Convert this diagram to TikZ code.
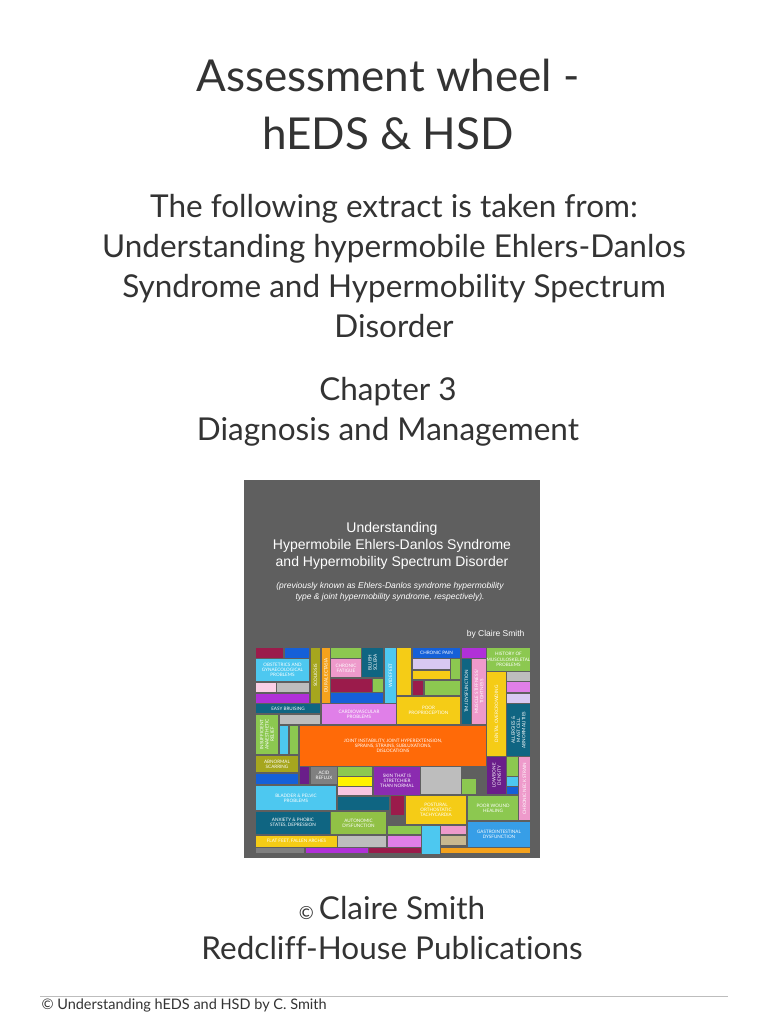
\documentclass[tikz,border=0pt]{standalone}
\usepackage{fontspec}
\setmainfont[Ligatures={NoCommon}]{Lato}
\newfontfamily\cov{Liberation Sans}
\begin{document}
\begin{tikzpicture}[x=1pt,y=-1pt]
\definecolor{cgray}{HTML}{5F5F5F}
\definecolor{maroon}{HTML}{9B1B4B}
\definecolor{mblue}{HTML}{1560D8}
\definecolor{lblue}{HTML}{4DC8F0}
\definecolor{lpink}{HTML}{FAD0E6}
\definecolor{lgray}{HTML}{BDBDBD}
\definecolor{purp}{HTML}{B030D8}
\definecolor{olive}{HTML}{A6A61E}
\definecolor{orng}{HTML}{F5A21C}
\definecolor{grn}{HTML}{8CC850}
\definecolor{pnk}{HTML}{EE9ACB}
\definecolor{teal}{HTML}{0F6582}
\definecolor{yel}{HTML}{F5CC16}
\definecolor{borng}{HTML}{FF6A08}
\definecolor{viol}{HTML}{E07FE8}
\definecolor{dpurp}{HTML}{6A1E8A}
\definecolor{spurp}{HTML}{8B2BB0}
\definecolor{lav}{HTML}{D8C8F2}
\definecolor{tan}{HTML}{C8B890}
\definecolor{txt}{HTML}{333333}
\tikzset{lab/.style={text=white,font=\fontsize{4.6}{5.2}\selectfont,align=center,inner sep=0pt},
 big/.style={text=txt,font=\fontsize{44}{48}\selectfont},
 mid/.style={text=txt,font=\fontsize{31.5}{40}\selectfont,align=center}}
\newcommand\blk[6]{\fill[#5] (#1,#2) rectangle (#3,#4);
 \node[lab] at ({(#1+#3)/2},{(#2+#4)/2}) {#6};}
\newcommand\vblk[6]{\fill[#5] (#1,#2) rectangle (#3,#4);
 \node[lab,rotate=90] at ({(#1+#3)/2},{(#2+#4)/2}) {#6};}
\useasboundingbox (0,0) rectangle (768,1024);
\fill[white] (0,0) rectangle (768,1024);
\node[big] (t1) at (388,75) {Assessment wheel -};
\node[big] (t2) at (388,133) {hEDS \& HSD};
\node[mid] (s1) at (394,266) {The following extract is taken from:\\Understanding hypermobile Ehlers-Danlos\\Syndrome and Hypermobility Spectrum\\Disorder};
\node[mid] (c1) at (388,412) {Chapter 3\\Diagnosis and Management};
% cover
\fill[cgray] (244,480) rectangle (540,858);
\node[text=white,font=\cov\fontsize{14}{17}\selectfont,align=center] (ct) at (392,546) {Understanding\\Hypermobile Ehlers-Danlos Syndrome\\and Hypermobility Spectrum Disorder};
\node[text=white,font=\cov\itshape\fontsize{8.5}{11}\selectfont,align=center] (cp) at (390,592) {(previously known as Ehlers-Danlos syndrome hypermobility\\type \& joint hypermobility syndrome, respectively).};
\node[text=white,font=\cov\fontsize{8.5}{10}\selectfont,anchor=east] (cb) at (528,634) {by Claire Smith};
% mosaic left
\blk{256}{648}{283}{658}{maroon}{}
\blk{285}{648}{309}{658}{mblue}{}
\blk{256}{659}{309}{681}{lblue}{OBSTETRICS AND\\GYNAECOLOGICAL\\PROBLEMS}
\blk{256}{683}{276}{692}{lpink}{}
\blk{277}{683}{309}{692}{lgray}{}
\blk{256}{694}{309}{703}{purp}{}
\vblk{311}{648}{320}{703}{olive}{SCOLIOSIS}
\vblk{322}{648}{330}{703}{orng}{DURAL ECTASIA}
\blk{331}{648}{361}{658}{grn}{}
\blk{331}{659}{361}{677}{pnk}{CHRONIC\\FATIGUE}
\vblk{362}{648}{383}{677}{teal}{BLUISH\\SCLERA}
\blk{331}{679}{372}{692}{maroon}{}
\blk{373}{679}{383}{692}{grn}{}
\blk{331}{693}{383}{703}{mblue}{}
\vblk{385}{648}{396}{703}{lblue}{WIDE FEET}
\blk{256}{704}{320}{713}{teal}{EASY BRUISING}
\blk{280}{715}{320}{724}{lgray}{}
\blk{322}{704}{396}{724}{viol}{CARDIOVASCULAR\\PROBLEMS}
\vblk{256}{715}{278}{754}{grn}{INSUFFICIENT\\ANAESTHETIC\\RELIEF}
\blk{280}{726}{288}{754}{lblue}{}
\blk{290}{726}{298}{754}{grn}{}
\blk{300}{726}{486}{766}{borng}{JOINT INSTABILITY, JOINT HYPEREXTENSION,\\SPRAINS, STRAINS, SUBLUXATIONS,\\DISLOCATIONS}
\blk{256}{756}{298}{772}{olive}{ABNORMAL\\SCARRING}
\blk{256}{774}{298}{784}{mblue}{}
\blk{300}{767}{309}{784}{dpurp}{}
\blk{311}{767}{337}{784}{gray}{ACID\\REFLUX}
\blk{338}{767}{372}{776}{grn}{}
\blk{338}{777}{372}{786}{yellow}{}
\blk{338}{787}{372}{795}{lpink!80!pnk}{}
\blk{374}{767}{420}{795}{spurp}{SKIN THAT IS\\STRETCHIER\\THAN NORMAL}
\blk{256}{786}{336}{810}{lblue}{BLADDER \& PELVIC\\PROBLEMS}
\blk{338}{797}{389}{810}{teal}{}
\blk{256}{812}{330}{834}{teal}{ANXIETY \& PHOBIC\\STATES, DEPRESSION}
\blk{331}{812}{386}{834}{grn!80!olive}{AUTONOMIC\\DYSFUNCTION}
\blk{256}{836}{337}{847}{yel}{FLAT FEET, FALLEN ARCHES}
\blk{338}{836}{386}{847}{lgray}{}
\blk{256}{848}{304}{853}{gray}{}
\blk{306}{848}{368}{853}{purp}{}
\blk{369}{848}{421}{853}{maroon}{}
% mosaic right
\blk{397}{648}{411}{695}{yel}{}
\blk{413}{648}{460}{658}{mblue}{CHRONIC PAIN}
\blk{413}{659}{450}{669}{lav}{}
\blk{451}{659}{460}{679}{grn}{}
\blk{413}{671}{450}{679}{yel}{}
\blk{413}{681}{423}{695}{maroon}{}
\blk{425}{681}{460}{695}{grn}{}
\blk{397}{697}{460}{724}{yel}{POOR\\PROPRIOCEPTION}
\blk{462}{648}{486}{658}{purp}{}
\vblk{462}{659}{471}{724}{teal}{TMJ DYSFUNCTION}
\vblk{472}{659}{486}{724}{pnk}{MUSCLE STIFFNESS/\\TIGHTNESS}
\blk{487}{648}{530}{671}{grn}{HISTORY OF\\MUSCULOSKELETAL\\PROBLEMS}
\vblk{487}{672}{506}{756}{yel}{DENTAL OVERCROWDING}
\blk{507}{672}{530}{681}{lgray}{}
\blk{507}{682}{530}{692}{viol}{}
\blk{507}{694}{530}{703}{lav}{}
\vblk{507}{704}{530}{756}{teal}{ALLERGIES \&\\MAST CELL\\ABNORMALITIES}
\blk{421}{767}{461}{794}{lgray}{}
\blk{462}{779}{476}{794}{grn}{}
\vblk{487}{757}{506}{794}{dpurp}{LOW BONE\\DENSITY}
\blk{507}{757}{518}{776}{grn}{}
\blk{507}{777}{518}{786}{lblue}{}
\blk{507}{787}{518}{794}{mblue}{}
\vblk{519}{757}{530}{820}{pnk}{CHRONIC NECK STRAIN}
\blk{391}{796}{404}{815}{maroon}{}
\blk{406}{796}{466}{824}{yel}{POSTURAL\\ORTHOSTATIC\\TACHYCARDIA}
\blk{468}{796}{518}{820}{grn}{POOR WOUND\\HEALING}
\blk{388}{826}{421}{834}{grn}{}
\blk{422}{826}{440}{854}{lblue}{}
\blk{388}{836}{421}{847}{viol}{}
\blk{441}{826}{466}{834}{pnk}{}
\blk{441}{836}{466}{845}{tan}{}
\blk{468}{822}{530}{847}{lblue!60!mblue}{GASTROINTESTINAL\\DYSFUNCTION}
\blk{441}{848}{530}{853}{orng}{}
% bottom
\node[mid] (cs) at (392,928) {{\fontsize{18}{20}\selectfont\textcopyright}\,Claire Smith\\Redcliff-House Publications};
\draw[lgray,line width=0.7pt] (40,996) -- (728,996);
\node[text=txt,font=\fontsize{14.5}{16}\selectfont,anchor=west] (ft) at (38,1005) {\textcopyright\ Understanding hEDS and HSD by C. Smith};
\end{tikzpicture}
\end{document}
